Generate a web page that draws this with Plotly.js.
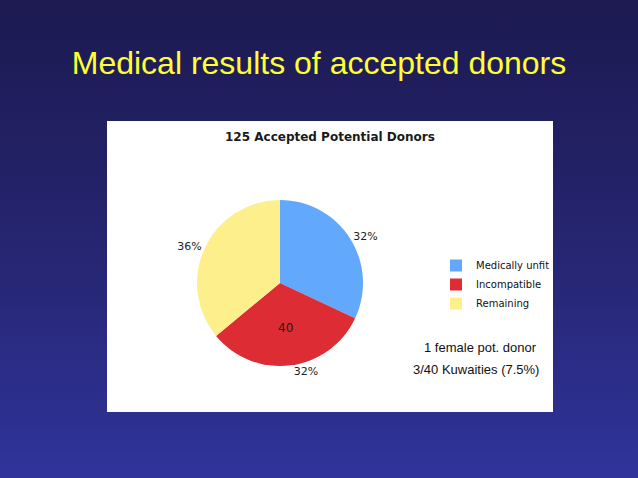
<!DOCTYPE html>
<html>
<head>
<meta charset="utf-8">
<script src="https://cdn.plot.ly/plotly-3.0.1.min.js"></script>
<style>
  html, body { margin: 0; padding: 0; }
  body { width: 638px; height: 478px; overflow: hidden;
         background: linear-gradient(to bottom, #1c1a50 0%, #25246e 48%, #30339a 100%); }
  #chart { width: 638px; height: 478px; }
</style>
</head>
<body>
<div id="chart"></div>
<script>
const categories = ["Medically unfit", "Incompatible", "Remaining"];
const donorCounts = [40, 40, 45];
const sliceColors = ["#62a8fc", "#dd2c33", "#fdf08c"];
const insideLabels = ["", "%{value}", ""];
const chartTitle = "125 Accepted Potential Donors";
const slideTitle = "Medical results of accepted donors";
const notes = ["1 female pot. donor", "3/40 Kuwaities (7.5%)"];

const W = 638, H = 478;
const px = x => x / W;
const py = y => 1 - y / H;

const pieDomain = { x: [px(197), px(363)], y: [py(366), py(200)] };

const traces = [
  {
    type: "pie",
    labels: categories,
    values: donorCounts,
    sort: false,
    direction: "clockwise",
    rotation: 0,
    marker: { colors: sliceColors, line: { width: 0 } },
    textposition: "outside",
    texttemplate: "%{percent:.0%}",
    textfont: { family: "DejaVu Sans", size: 11, color: "#222222" },
    hoverinfo: "none",
    domain: pieDomain
  },
  {
    type: "pie",
    labels: categories,
    values: donorCounts,
    sort: false,
    direction: "clockwise",
    rotation: 0,
    marker: { colors: ["rgba(0,0,0,0)", "rgba(0,0,0,0)", "rgba(0,0,0,0)"], line: { width: 0 } },
    textposition: "inside",
    texttemplate: insideLabels,
    insidetextfont: { family: "DejaVu Sans", size: 12, color: "#1a1a1a" },
    hoverinfo: "none",
    showlegend: false,
    domain: pieDomain
  }
];

const layout = {
  width: W, height: H,
  margin: { l: 0, r: 0, t: 0, b: 0 },
  paper_bgcolor: "rgba(0,0,0,0)",
  plot_bgcolor: "rgba(0,0,0,0)",
  title: {
    text: slideTitle,
    x: px(319), xanchor: "center",
    y: py(63), yanchor: "middle",
    font: { family: "Liberation Sans, Arial, sans-serif", size: 32, color: "#ffff33" }
  },
  shapes: [
    { type: "rect", xref: "paper", yref: "paper", layer: "below",
      x0: px(107), x1: px(553), y0: py(412), y1: py(121),
      fillcolor: "#ffffff", line: { width: 0 } }
  ],
  annotations: [
    { text: "<b>" + chartTitle + "</b>", xref: "paper", yref: "paper",
      x: px(330), y: py(137), xanchor: "center", yanchor: "middle", showarrow: false,
      font: { family: "DejaVu Sans", size: 12, color: "#1a1a1a" } },
    { text: notes[0], xref: "paper", yref: "paper",
      x: px(480), y: py(347), xanchor: "center", yanchor: "middle", showarrow: false,
      font: { family: "Liberation Sans, Arial", size: 13, color: "#111111" } },
    { text: notes[1], xref: "paper", yref: "paper",
      x: px(476), y: py(369), xanchor: "center", yanchor: "middle", showarrow: false,
      font: { family: "Liberation Sans, Arial", size: 13, color: "#111111" } }
  ],
  legend: {
    x: px(436), y: py(251), xanchor: "left", yanchor: "top",
    bgcolor: "rgba(0,0,0,0)",
    font: { family: "DejaVu Sans", size: 10, color: "#111111" },
    itemclick: false, itemdoubleclick: false
  },
  showlegend: true
};

Plotly.newPlot("chart", traces, layout, { displayModeBar: false, staticPlot: true });
</script>
</body>
</html>
